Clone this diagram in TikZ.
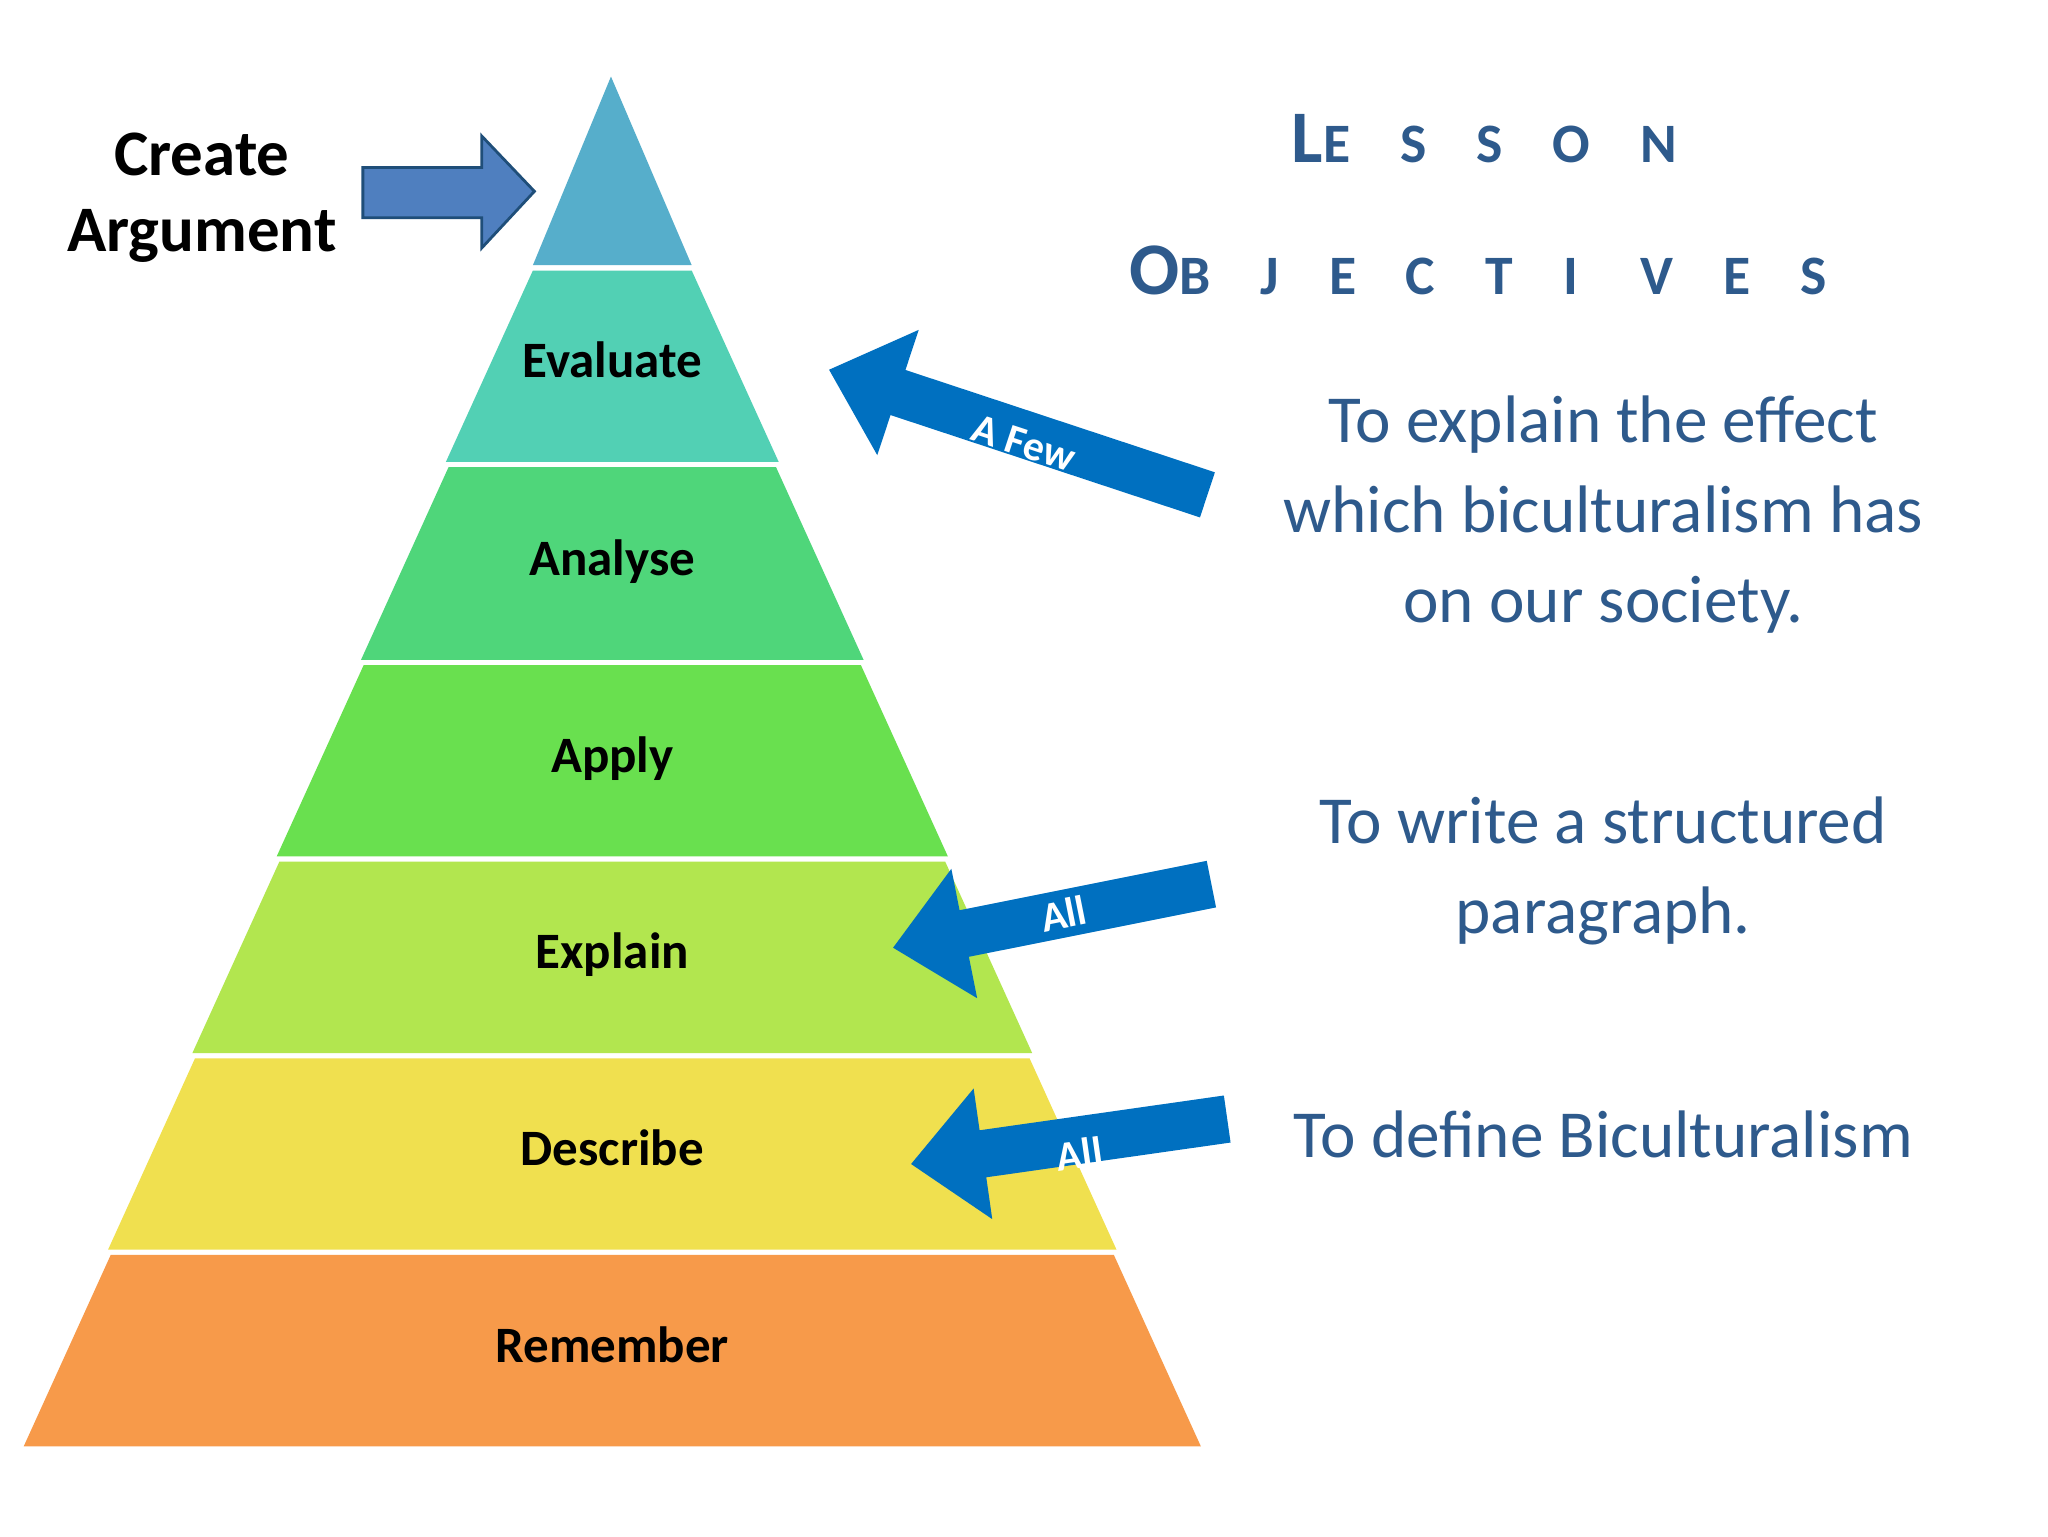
\documentclass[tikz,border=0pt]{standalone}
\usepackage{fontspec}
\setmainfont{Carlito}
\usetikzlibrary{calc}
\definecolor{tA}{HTML}{56AECB}
\definecolor{tB}{HTML}{52D0B4}
\definecolor{tC}{HTML}{4FD67A}
\definecolor{tD}{HTML}{69E04F}
\definecolor{tE}{HTML}{B2E64F}
\definecolor{tF}{HTML}{F0E04F}
\definecolor{tG}{HTML}{F79A4A}
\definecolor{arr}{HTML}{0070C0}
\definecolor{arrdk}{HTML}{1F4E79}
\definecolor{txtblue}{HTML}{2E5A8C}
\definecolor{cblue}{HTML}{4F7FBF}
\tikzset{
  lbl/.style={font=\fontsize{22}{25}\selectfont\bfseries, text=black},
  obj/.style={font=\fontsize{29}{39}\selectfont, text=txtblue, align=center},
  arrlbl/.style={font=\fontsize{18}{20}\selectfont\bfseries, text=white},
  ttl/.style={font=\fontsize{32}{34}\selectfont\bfseries\addfontfeature{LetterSpace=90}, text=txtblue},
}
\newcommand{\band}[4]{% y1 y2 color name
  \fill[#3] ({464-(#1-58)*0.428846+2},-#1-2) -- ({464+(#1-58)*0.428846-2},-#1-2)
     -- ({464+(#2-58)*0.428846},-#2+2) -- ({464-(#2-58)*0.428846},-#2+2) -- cycle;
  \node[lbl] (#4) at (464,{-(#1+#2)/2}) {\strut #4};}
\newcommand{\blockarrow}[6]{% x y angle length name colour
  \begin{scope}[shift={(#1,#2)},rotate=#3]
  \fill[#6] (0,-18) -- ({#4-55},-18) -- ({#4-55},-50) -- (#4,0) -- ({#4-55},50) -- ({#4-55},18) -- (0,18) -- cycle;
  \coordinate (#5) at (0,0);
  \end{scope}}
\begin{document}
\begin{tikzpicture}[x=0.02cm,y=0.02cm]
\useasboundingbox (0,0) rectangle (1552,-1164);
\fill[white] (0,0) rectangle (1552,-1164);
% pyramid
\fill[tA] (463,-58) -- ({464+(203-58)*0.428846-2},-201) -- ({464-(203-58)*0.428846+2},-201) -- cycle;
\band{203}{352}{tB}{Evaluate}
\band{352}{502}{tC}{Analyse}
\band{502}{651}{tD}{Apply}
\band{651}{800}{tE}{Explain}
\band{800}{949}{tF}{Describe}
\band{949}{1098}{tG}{Remember}
% create arrow
\fill[cblue, draw=arrdk, line width=1.2] (275,-127) -- (365,-127) -- (365,-103) -- (405,-145) -- (365,-188) -- (365,-165) -- (275,-165) -- cycle;
\node[font=\fontsize{28}{33}\selectfont\bfseries, align=center] (create) at (153,-150) {Create\\Argument};
% objective arrows
\blockarrow{915}{-375}{161.7}{302}{afew}{arr}
\node[arrlbl, rotate=-18.3, inner sep=0pt] (afewl) at (776,-336) {A Few};
\blockarrow{918}{-670}{191.3}{246}{all1}{arr}
\node[arrlbl, rotate=11.3, inner sep=0pt] (all1l) at (806,-692) {All};
\blockarrow{930}{-848}{188.1}{242}{all2}{arr}
\node[arrlbl, rotate=8.1, inner sep=0pt] (all2l) at (818,-874) {All};
% title
\node[ttl] (t1) at (1125,-105) {L{\fontsize{24}{26}\selectfont ESSON}};
\node[ttl] (t2) at (1120,-205) {O{\fontsize{24}{26}\selectfont BJECTI VES}};
% objectives
\node[obj] (o1) at (1215,-390) {To explain the effect\\which biculturalism has\\on our society.};
\node[obj] (o2) at (1215,-660) {To write a structured\\paragraph.};
\node[obj] (o3) at (1215,-860) {To define Biculturalism};
\end{tikzpicture}
\end{document}
